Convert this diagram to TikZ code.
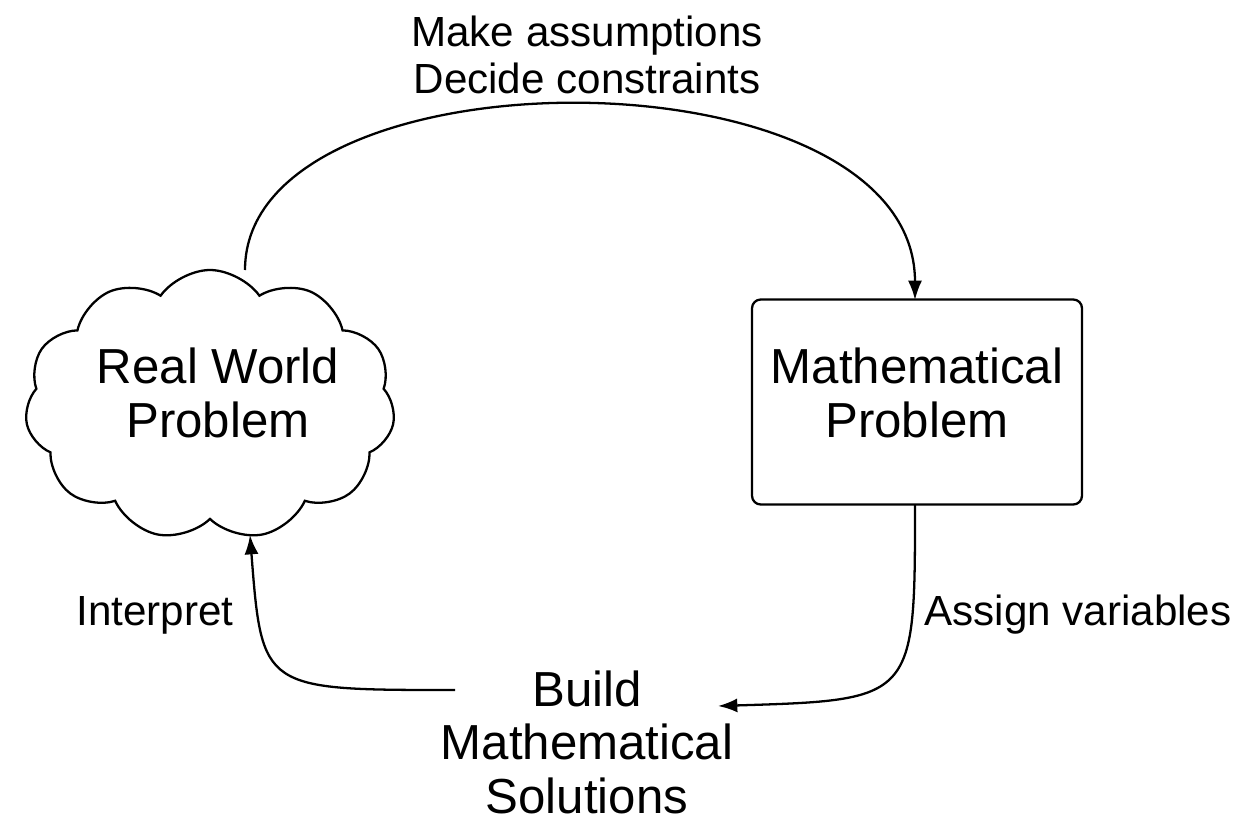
\documentclass[tikz,border=0pt]{standalone}
\usepackage{fontspec}
\setmainfont{Liberation Sans}
\usetikzlibrary{shapes.symbols,arrows.meta}
\begin{document}
\begin{tikzpicture}[x=0.02cm,y=-0.02cm,
  big/.style={font=\fontsize{28}{30.5}\selectfont,align=center},
  lab/.style={font=\fontsize{24}{27}\selectfont,align=center},
  conn/.style={line width=1.3pt,-{Latex[length=11pt,width=8pt]}}]
\useasboundingbox (0,0) rectangle (1237,824);
\node[draw,line width=1.3pt,cloud,cloud puffs=11,cloud puff arc=110,aspect=1.35,minimum width=370*0.02cm,minimum height=270*0.02cm,inner sep=0pt] (rw) at (210,405) {};
\node[big] (rwt) at (218,393) {Real World\\Problem};
\node[draw,line width=1.3pt,rounded corners=5pt,minimum width=330*0.02cm,minimum height=205*0.02cm] (mp) at (917,402) {};
\node[big] at (917,393) {Mathematical\\Problem};
\node[big] (bs) at (587,742) {Build\\Mathematical\\Solutions};
\node[lab] (t1) at (587,55) {Make assumptions\\Decide constraints};
\node[lab] (t2) at (1078,615) {Assign variables};
\node[lab] (t3) at (155,615) {Interpret};
\coordinate (a) at (245,270);
\coordinate (b) at (915,300);
\coordinate (c) at (915,505);
\coordinate (d) at (718,706);
\coordinate (e) at (455,690);
\coordinate (f) at (250,535);
\draw[conn] (a) .. controls (245,45) and (915,45) .. (b);
\draw[conn] (c) .. controls (915,700) .. (d);
\draw[conn] (e) .. controls (262,690) .. (f);
\end{tikzpicture}
\end{document}
